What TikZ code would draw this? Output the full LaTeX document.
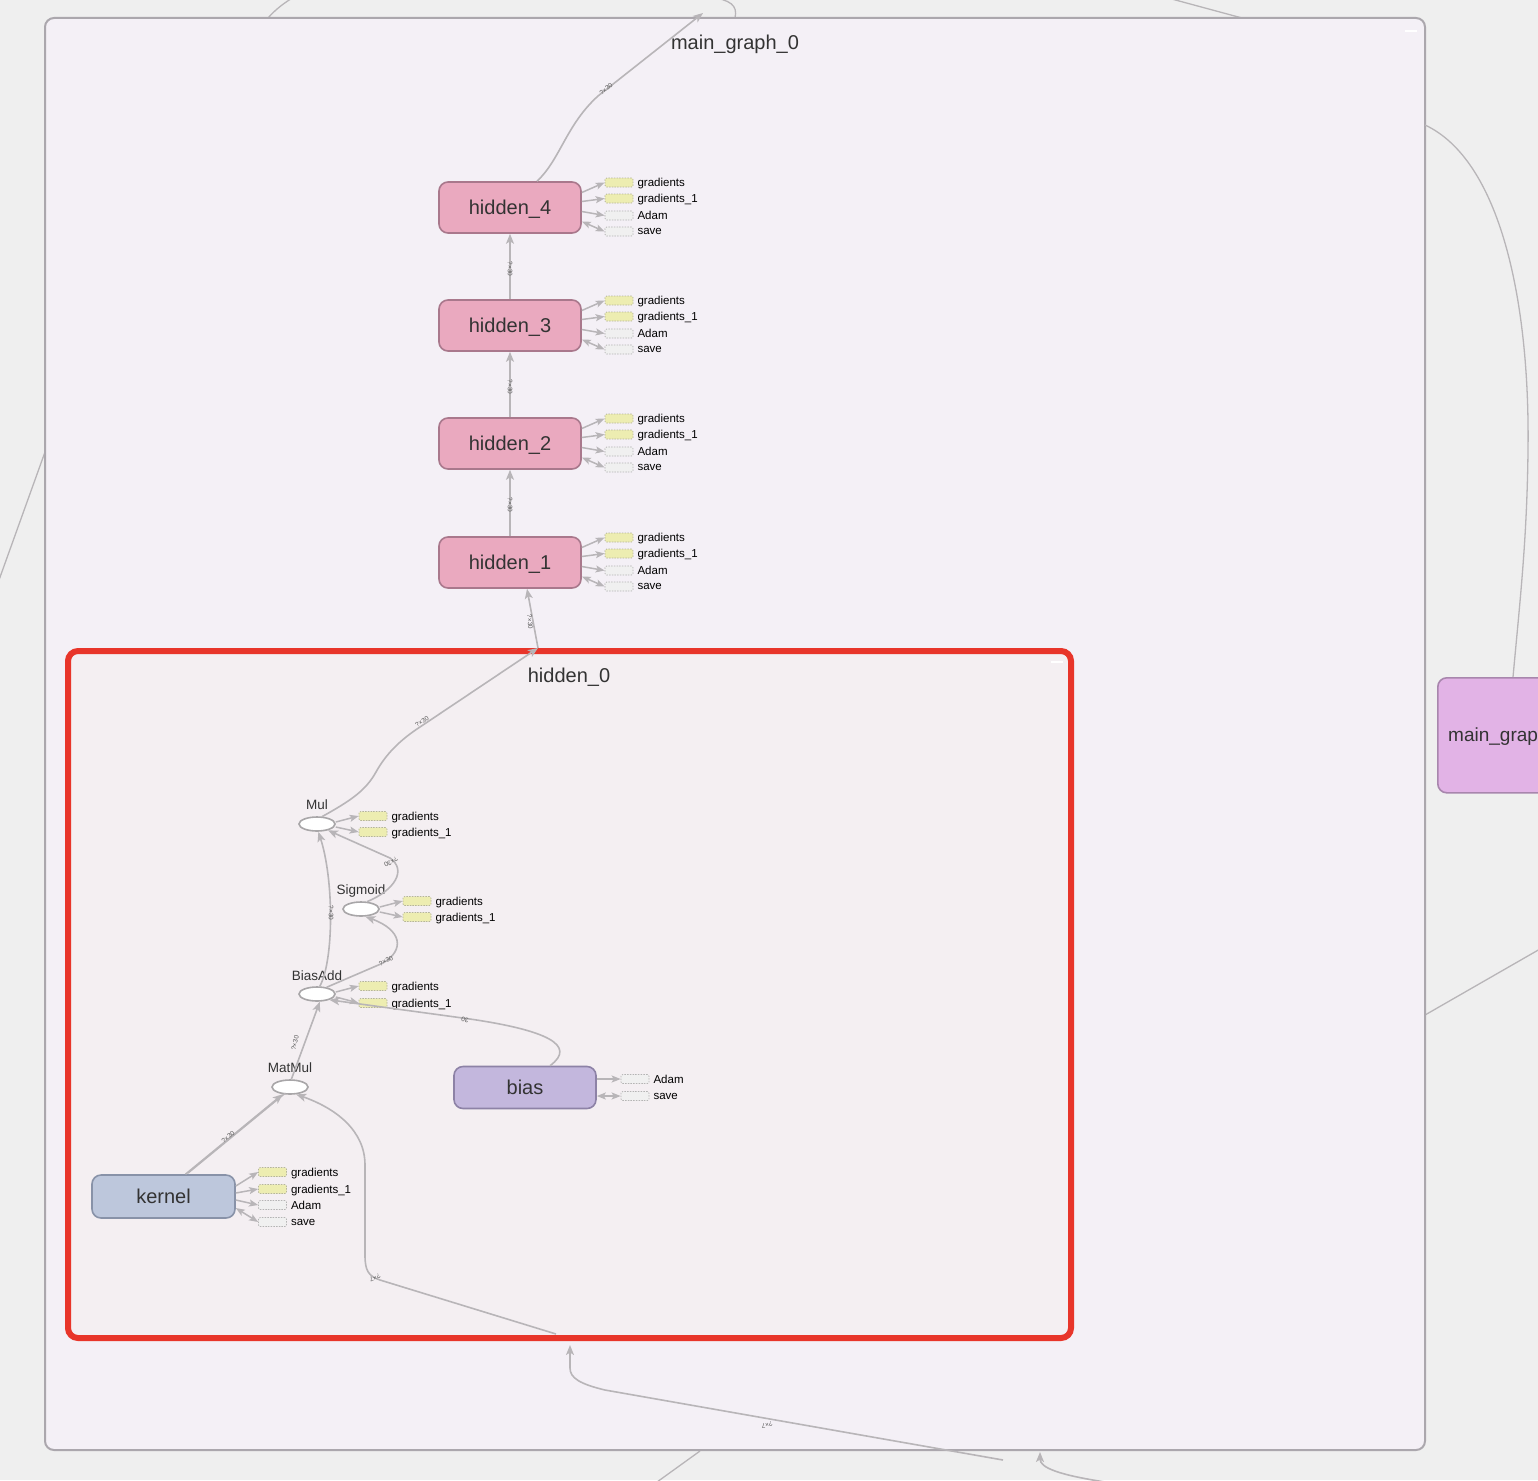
\documentclass[tikz,border=0pt]{standalone}
\usepackage{fontspec}
\setmainfont{Liberation Sans}
\usetikzlibrary{arrows.meta,shapes.geometric}
\definecolor{bgc}{HTML}{EFEFEF}
\definecolor{mainfill}{HTML}{F4F0F6}
\definecolor{mainstroke}{HTML}{ABA7AD}
\definecolor{hzfill}{HTML}{F4EFF2}
\definecolor{redc}{HTML}{E8352A}
\definecolor{hidfill}{HTML}{EAA9BF}
\definecolor{hidstroke}{HTML}{A9788C}
\definecolor{edgec}{HTML}{B8B5B8}
\definecolor{txt}{HTML}{333333}
\definecolor{auxyfill}{HTML}{EDEDB1}
\definecolor{auxystroke}{HTML}{B5B59A}
\definecolor{auxgfill}{HTML}{F0F0F0}
\definecolor{auxgstroke}{HTML}{B4B4B4}
\definecolor{biasfill}{HTML}{C3B7DD}
\definecolor{biasstroke}{HTML}{8D82A6}
\definecolor{kernfill}{HTML}{BDC7DC}
\definecolor{kernstroke}{HTML}{8892A8}
\definecolor{mgfill}{HTML}{E2B3E6}
\definecolor{mgstroke}{HTML}{A886AD}
\definecolor{opstroke}{HTML}{A8A6A8}
\tikzset{
 tip/.tip={Stealth[length=10pt,width=8pt,inset=2.5pt]},
 smalltip/.tip={Stealth[length=9pt,width=7pt,inset=2pt]},
 edge/.style={draw=edgec, line width=1.6pt, -{tip}},
 edgeplain/.style={draw=edgec, line width=1.3pt},
 auxarrow/.style={draw=edgec, line width=1.5pt, -{smalltip}},
 auxboth/.style={draw=edgec, line width=1.5pt, {smalltip}-{smalltip}},
 hid/.style={draw=hidstroke, fill=hidfill, line width=1.6pt, rounded corners=9pt, minimum width=142pt, minimum height=51pt, inner sep=0pt, font=\fontsize{20}{24}\selectfont, text=txt, text depth=0pt},
 varnode/.style={line width=1.6pt, rounded corners=9pt, minimum width=142pt, minimum height=42pt, inner sep=0pt, font=\fontsize{20}{24}\selectfont, text=txt, text depth=0pt},
 op/.style={ellipse, draw=opstroke, fill=white, line width=1.6pt, minimum width=36pt, minimum height=14pt, inner sep=0pt},
 oplbl/.style={font=\fontsize{13.5}{16}\selectfont, text=txt, inner sep=0pt, text depth=0pt},
 auxbase/.style={dash pattern=on 1.5pt off 1.2pt, line width=0.7pt, rounded corners=1.5pt, minimum width=28pt, minimum height=9pt, inner sep=0pt},
 auxy/.style={auxbase, draw=auxystroke, fill=auxyfill},
 auxg/.style={auxbase, draw=auxgstroke, fill=auxgfill},
 auxlbl/.style={font=\fontsize{11.5}{13}\selectfont, text=black, inner sep=0pt, anchor=west, text depth=0pt},
 elbl/.style={font=\fontsize{6.5}{7}\selectfont, text=black!65, inner sep=0.3pt},
 title/.style={font=\fontsize{20}{24}\selectfont, text=txt, inner sep=0pt, text depth=0pt},
}
\newcommand\auxbox[4]{%
  \node[#3] (#1) at #2 {};
  \node[auxlbl] (#1t) at ([xshift=4pt]#1.east) {#4};
}
\begin{document}
\begin{tikzpicture}[x=1pt,y=-1pt]
\useasboundingbox (0,0) rectangle (1538,1480);
\clip (0,0) rectangle (1538,1480);
\fill[bgc] (0,0) rectangle (1538,1480);

% stubs of edges to nodes outside the view
\coordinate (s1a) at (268,18);  \coordinate (s1b) at (294,-3);
\coordinate (s2a) at (735,18);  \coordinate (s2b) at (710,-3);
\coordinate (s3a) at (1168,-2); \coordinate (s3b) at (1242,18);
\coordinate (s4a) at (45,452);  \coordinate (s4b) at (-1,580);
\coordinate (s5a) at (1425,1015); \coordinate (s5b) at (1540,949);
\coordinate (s6a) at (700,1451); \coordinate (s6b) at (657,1482);
\coordinate (s7a) at (1105,1482); \coordinate (s7b) at (1040,1452);
\coordinate (s8a) at (1425,125);
\draw[edgeplain] (s1a) .. controls (276,9) and (284,3) .. (s1b);
\draw[edgeplain] (s2a) .. controls (738,5) and (730,0) .. (s2b);
\draw[edgeplain] (s3a) -- (s3b);
\draw[edgeplain] (s4a) -- (s4b);
\draw[edgeplain] (s5a) -- (s5b);
\draw[edgeplain] (s6a) -- (s6b);

% main_graph_0 container
\draw[mainstroke, fill=mainfill, line width=2pt, rounded corners=9pt] (45,18) rectangle (1425,1450);
\node[title] (t0) at (735,42) {main\_graph\_0};
\draw[white, line width=1.2pt] (1405,31) -- (1417,31);

% main_grap node on the right
\node[draw=mgstroke, fill=mgfill, line width=1.6pt, rounded corners=9pt, minimum width=160pt, minimum height=115pt, anchor=north west] (mg) at (1437,677) {};
\node[title, anchor=west, font=\fontsize{19}{22}\selectfont] (mgt) at (1448,735) {main\_grap};
\draw[edgeplain] (s8a) .. controls (1500,160) and (1530,300) .. (1528,450) .. controls (1527,540) and (1520,600) .. ([xshift=76pt]mg.north west);
\draw[edge] (s7a) .. controls (1060,1475) and (1040,1468) .. (s7b);

% hidden_0 container
\draw[redc, fill=hzfill, line width=6pt, rounded corners=10pt] (68,651) rectangle (1071,1338);
\node[title] (t1) at (569,675) {hidden\_0};
\draw[white, line width=1.2pt] (1051,662) -- (1063,662);

% hidden layer nodes
\foreach \n/\cy in {1/562.5,2/443.5,3/325.5,4/207.5}{
  \node[hid] (h\n) at (510,\cy) {hidden\_\n};
  \auxbox{h\n g}{(619,{\cy-25})}{auxy}{gradients}
  \auxbox{h\n g1}{(619,{\cy-9})}{auxy}{gradients\_1}
  \auxbox{h\n a}{(619,{\cy+8})}{auxg}{Adam}
  \auxbox{h\n s}{(619,{\cy+24})}{auxg}{save}
  \draw[auxarrow] ([yshift=15pt]h\n.east) -- (h\n g.west);
  \draw[auxarrow] ([yshift=6pt]h\n.east) -- (h\n g1.west);
  \draw[auxarrow] ([yshift=-4pt]h\n.east) -- (h\n a.west);
  \draw[auxboth] ([yshift=-14pt]h\n.east) -- (h\n s.west);
}
\draw[edge] (h1.north) -- (h2.south);
\draw[edge] (h2.north) -- (h3.south);
\draw[edge] (h3.north) -- (h4.south);
\node[elbl, rotate=-90] (l12) at (510,505) {?×30};
\node[elbl, rotate=-90] (l23) at (510,387) {?×30};
\node[elbl, rotate=-90] (l34) at (510,269) {?×30};

% hidden_4 output
\coordinate (out4) at (703,13);
\draw[edge] ([xshift=27pt]h4.north) .. controls (560,160) and (566,125) .. (598,96) -- (out4);
\node[elbl, rotate=40] (l4o) at (606,89) {?×30};

% ops in hidden_0
\node[op] (mul) at (317,824) {};
\node[oplbl] (mull) at (317,805) {Mul};
\node[op] (sig) at (361,909) {};
\node[oplbl] (sigl) at (361,890) {Sigmoid};
\node[op] (badd) at (317,994) {};
\node[oplbl] (baddl) at (317,976) {BiasAdd};
\node[op] (mm) at (290,1087) {};
\node[oplbl] (mml) at (290,1068) {MatMul};

\node[varnode, draw=biasstroke, fill=biasfill] (bias) at (525,1087.5) {bias};
\node[varnode, draw=kernstroke, fill=kernfill, minimum width=143pt, minimum height=43pt] (kern) at (163.5,1196.5) {kernel};

% aux boxes of the ops
\auxbox{mulg}{(373,816)}{auxy}{gradients}
\auxbox{mulg1}{(373,832)}{auxy}{gradients\_1}
\draw[auxarrow] ([yshift=2pt]mul.east) -- (mulg.west);
\draw[auxarrow] ([yshift=-3pt]mul.east) -- (mulg1.west);
\auxbox{sigg}{(417,901)}{auxy}{gradients}
\auxbox{sigg1}{(417,917)}{auxy}{gradients\_1}
\draw[auxarrow] ([yshift=2pt]sig.east) -- (sigg.west);
\draw[auxarrow] ([yshift=-3pt]sig.east) -- (sigg1.west);
\auxbox{baddg}{(373,986)}{auxy}{gradients}
\auxbox{baddg1}{(373,1003)}{auxy}{gradients\_1}
\draw[auxarrow] ([yshift=2pt]badd.east) -- (baddg.west);
\draw[auxarrow] ([yshift=-3pt]badd.east) -- (baddg1.west);
\auxbox{biasa}{(635,1079)}{auxg}{Adam}
\auxbox{biass}{(635,1096)}{auxg}{save}
\draw[auxarrow] ([yshift=8.5pt]bias.east) -- (biasa.west);
\draw[auxboth] ([yshift=-8.5pt]bias.east) -- (biass.west);
\auxbox{kerng}{(272.5,1172)}{auxy}{gradients}
\auxbox{kerng1}{(272.5,1189)}{auxy}{gradients\_1}
\auxbox{kerna}{(272.5,1205)}{auxg}{Adam}
\auxbox{kerns}{(272.5,1222)}{auxg}{save}
\draw[auxarrow] ([yshift=10.5pt]kern.east) -- (kerng.west);
\draw[auxarrow] ([yshift=3.5pt]kern.east) -- (kerng1.west);
\draw[auxarrow] ([yshift=-3.5pt]kern.east) -- (kerna.west);
\draw[auxboth] ([yshift=-11.5pt]kern.east) -- (kerns.west);

% data edges in hidden_0
\coordinate (kn) at ([xshift=22pt]kern.north);
\draw[edge] (kn) -- (mm.-135);
\draw[edgec, line width=1.3pt] ([xshift=2.5pt,yshift=1pt]kn) -- ([xshift=2.5pt,yshift=1pt]mm.-135);
\node[elbl, rotate=40] (lkm) at (228,1137) {?×30};
\draw[edge] (mm.80) -- (badd.-70);
\node[elbl, rotate=77] (lmb) at (295,1043) {?×30};
\draw[edge] ([xshift=25pt]bias.north) .. controls (578,1045) and (545,1030) .. (470,1019) -- (badd.-25);
\node[elbl, rotate=171] (lbb) at (465,1020) {30};
\draw[edge] (badd.35) -- (383,963) .. controls (405,950) and (402,930) .. (sig.-60);
\node[elbl, rotate=27] (lbs) at (386,961) {?×30};
\draw[edge] (sig.50) .. controls (395,890) and (407,870) .. (390,858) -- (mul.-30);
\node[elbl, rotate=-150] (lsm) at (391,862) {?×30};
\draw[edge] (badd.70) .. controls (334,960) and (334,880) .. (mul.-80);
\node[elbl, rotate=-90] (lbm) at (331,913) {?×30};

% Mul -> out of hidden_0 -> hidden_1
\coordinate (h0out) at (538,648);
\draw[edge] (mul.55) .. controls (352,800) and (366,790) .. (376,772) .. controls (386,754) and (400,740) .. (420,727) -- (h0out);
\node[elbl, rotate=33] (lmo) at (422,722) {?×30};
\draw[edge] (h0out) -- ([xshift=17pt]h1.south);
\node[elbl, rotate=-85] (lo1) at (530,622) {?×30};

% input edge into hidden_0 and on to MatMul
\coordinate (inB) at (1003,1460);
\coordinate (inA) at (570,1345);
\coordinate (inC) at (556,1334);
\draw[edge] (inB) -- (605,1390) .. controls (580,1384) and (570,1378) .. (570,1368) -- (inA);
\node[elbl, rotate=-171] (lin1) at (767,1425) {?×7};
\draw[edge] (inC) -- (380,1280) .. controls (368,1276) and (365,1270) .. (365,1255) -- (365,1165) .. controls (365,1130) and (335,1108) .. (mm.-50);
\node[elbl, rotate=-158] (lin2) at (375,1278) {?×7};
\end{tikzpicture}
\end{document}
